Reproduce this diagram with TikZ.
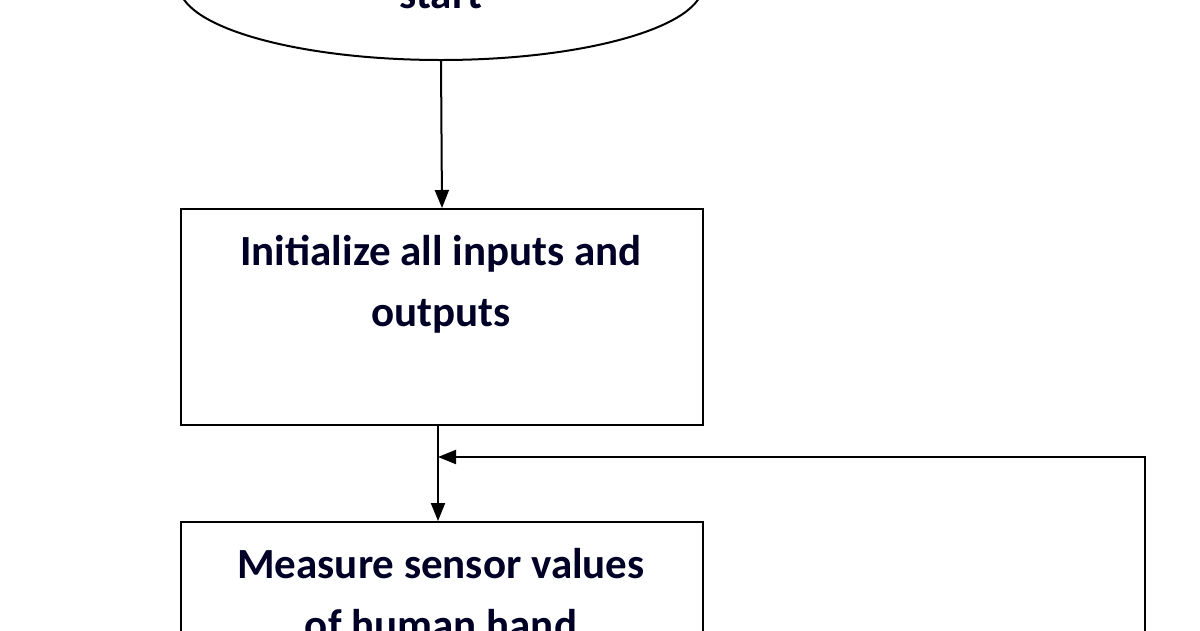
\documentclass[tikz,border=0pt]{standalone}
\usepackage{fontspec}
\setmainfont{Carlito}
\usetikzlibrary{arrows.meta,shapes.geometric}
\begin{document}
\begin{tikzpicture}[x=1pt,y=-1pt,
  box/.style={draw,line width=2pt,minimum width=522pt,minimum height=216pt,anchor=north west,inner sep=0pt},
  txt/.style={font=\bfseries\fontsize{43}{61}\selectfont,text=black!85!blue,align=center},
  arr/.style={line width=2pt,-{Triangle[length=18pt,width=14pt]}}]
\useasboundingbox (0,0) rectangle (1200,630);
\fill[white] (0,0) rectangle (1200,630);
\node[draw,line width=2pt,ellipse,minimum width=524pt,minimum height=150pt] (s) at (441,-15) {};
\node[txt] at (441,-5) {start};
\node[box] (b1) at (180,208) {};
\node[txt,anchor=north] at (441,232) {Initialize all inputs and\\outputs};
\node[box] (b2) at (180,521) {};
\node[txt,anchor=north] at (441,545) {Measure sensor values\\of human hand};
\draw[arr] (s.south) -- (b1.north);
\coordinate (j) at (438,457);
\coordinate (r) at (1145,457);
\coordinate (rb) at (1145,640);
\draw[arr] (b1.south -| j) -- (b2.north -| j);
\draw[arr] (rb) -- (r) -- (j);
\end{tikzpicture}
\end{document}
